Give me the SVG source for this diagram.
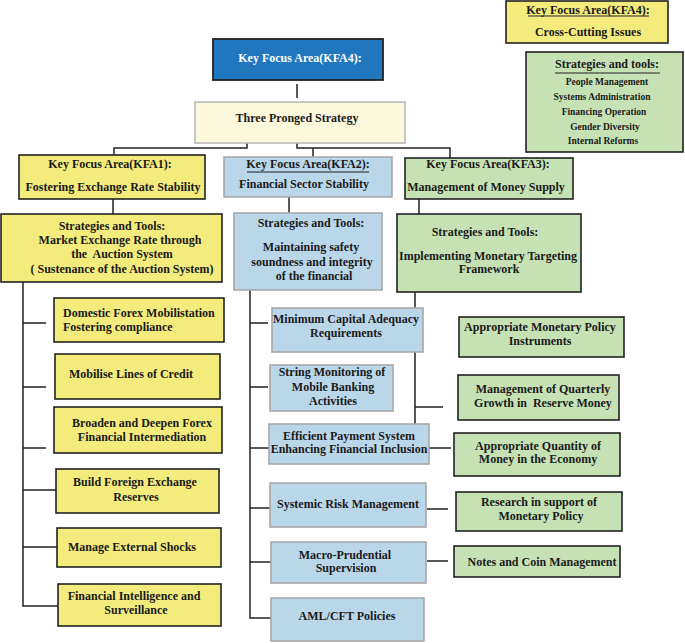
<svg xmlns="http://www.w3.org/2000/svg" width="685" height="643" viewBox="0 0 685 643">
<style>
.y{fill:#F4EB7D;stroke:#222;stroke-width:1.6}
.g{fill:#C6E2B4;stroke:#222;stroke-width:1.6}
.b{fill:#BAD7EA;stroke:#A8A8A8;stroke-width:1.6}
.c{fill:#FCF8DC;stroke:#B8B8B8;stroke-width:1.6}
.k{fill:#2177BD;stroke:#222;stroke-width:1.8}
text{font-family:"Liberation Serif","Times New Roman",serif;font-weight:bold;font-size:12px;fill:#1a1a1a;text-anchor:middle}
.s{font-size:9.5px}
.w{fill:#fff}
.u{stroke:#222;stroke-width:1.2}
#connectors path{fill:none;stroke:#222;stroke-width:1.5}
</style>
<rect width="685" height="643" fill="#fff"/>
<g id="connectors">
<path d="M297 84V98"/>
<path d="M247 143V148H114V155"/>
<path d="M297 143V148H450V158M313 148V157"/>
<path d="M113 199V214"/>
<path d="M289 197V213"/>
<path d="M419 199V214"/>
<path d="M23 282V606H58M23 323H46M23 387H46M23 448H46M23 490H56M23 547H57"/>
<path d="M250 290V618H271M250 323H268M250 387H268M250 448H269M250 508H270M250 562H271"/>
<path d="M415 292V424M415 407H443M429 448H451M427 509H448M427 561H448"/>
</g>
<g id="kfa4-cross">
<rect class="y" x="506" y="1" width="162" height="42"/>
<text x="588" y="13.5">Key Focus Area(KFA4):</text>
<line class="u" x1="528" y1="16" x2="649" y2="16"/>
<text x="588" y="36">Cross-Cutting Issues</text>
</g>
<g id="cross-tools">
<rect class="g" x="526" y="52" width="157" height="100"/>
<text x="607" y="68">Strategies and tools:</text>
<line class="u" x1="555" y1="73" x2="660" y2="73"/>
<text class="s" x="607" y="84.5">People Management</text>
<text class="s" x="602" y="99.5">Systems Administration</text>
<text class="s" x="604" y="114.5">Financing Operation</text>
<text class="s" x="605" y="129.5">Gender Diversity</text>
<text class="s" x="603" y="143.5">Internal Reforms</text>
</g>
<g id="kfa4-main">
<rect class="k" x="213" y="39" width="170" height="41"/>
<text class="w" x="300" y="62">Key Focus Area(KFA4):</text>
</g>
<g id="three">
<rect class="c" x="195" y="102" width="210" height="41"/>
<text x="297" y="122">Three Pronged Strategy</text>
</g>
<g id="kfa1">
<rect class="y" x="19" y="155" width="186" height="44"/>
<text x="110" y="168">Key Focus Area(KFA1):</text>
<text x="113" y="191">Fostering Exchange Rate Stability</text>
</g>
<g id="kfa2">
<rect class="b" x="224" y="157" width="168" height="40"/>
<text x="308" y="168">Key Focus Area(KFA2):</text>
<line class="u" x1="247" y1="172" x2="369" y2="172"/>
<text x="304" y="188">Financial Sector Stability</text>
</g>
<g id="kfa3">
<rect class="g" x="405" y="158" width="168" height="41"/>
<text x="488" y="168">Key Focus Area(KFA3):</text>
<text x="486" y="191">Management of Money Supply</text>
</g>
<g id="kfa1-tools">
<rect class="y" x="1" y="214" width="221" height="68"/>
<text x="112" y="230">Strategies and Tools:</text>
<text x="120" y="244">Market Exchange Rate through</text>
<text x="122" y="258" xml:space="preserve">the  Auction System</text>
<text x="122" y="273">( Sustenance of the Auction System)</text>
</g>
<g id="domestic">
<rect class="y" x="54" y="298" width="170" height="44"/>
<text x="63" y="317" style="text-anchor:start">Domestic Forex Mobilistation</text>
<text x="63" y="331" style="text-anchor:start">Fostering compliance</text>
</g>
<g id="mobilise">
<rect class="y" x="55" y="354" width="165" height="45"/>
<text x="131" y="378">Mobilise Lines of Credit</text>
</g>
<g id="broaden">
<rect class="y" x="54" y="407" width="168" height="46"/>
<text x="142" y="427">Broaden and Deepen Forex</text>
<text x="142" y="441">Financial Intermediation</text>
</g>
<g id="build">
<rect class="y" x="56" y="469" width="163" height="44"/>
<text x="135" y="486">Build Foreign Exchange</text>
<text x="136" y="501">Reserves</text>
</g>
<g id="shocks">
<rect class="y" x="57" y="528" width="164" height="39"/>
<text x="132" y="551">Manage External Shocks</text>
</g>
<g id="intel">
<rect class="y" x="58" y="584" width="163" height="42"/>
<text x="134" y="600">Financial Intelligence and</text>
<text x="136" y="614">Surveillance</text>
</g>
<g id="kfa2-tools">
<rect class="b" x="234" y="213" width="148" height="77"/>
<text x="311" y="227">Strategies and Tools:</text>
<text x="311" y="251">Maintaining safety</text>
<text x="312" y="266">soundness and integrity</text>
<text x="314" y="280">of the financial</text>
</g>
<g id="mincap">
<rect class="b" x="272" y="308" width="151" height="44"/>
<text x="346" y="323">Minimum Capital Adequacy</text>
<text x="346" y="337">Requirements</text>
</g>
<g id="string">
<rect class="b" x="270" y="365" width="123" height="46"/>
<text x="332" y="376">String Monitoring of</text>
<text x="333" y="391">Mobile Banking</text>
<text x="333" y="405">Activities</text>
</g>
<g id="efficient">
<rect class="b" x="269" y="424" width="160" height="40"/>
<text x="349" y="440">Efficient Payment System</text>
<text x="349" y="453">Enhancing Financial Inclusion</text>
</g>
<g id="systemic">
<rect class="b" x="270" y="483" width="156" height="44"/>
<text x="348" y="508">Systemic Risk Management</text>
</g>
<g id="macro">
<rect class="b" x="271" y="542" width="155" height="41"/>
<text x="345" y="559">Macro-Prudential</text>
<text x="346" y="572">Supervision</text>
</g>
<g id="aml">
<rect class="b" x="271" y="598" width="153" height="43"/>
<text x="347" y="620">AML/CFT Policies</text>
</g>
<g id="kfa3-tools">
<rect class="g" x="397" y="214" width="184" height="78"/>
<text x="485" y="236">Strategies and Tools:</text>
<text x="488" y="260">Implementing Monetary Targeting</text>
<text x="489" y="273">Framework</text>
</g>
<g id="apprmon">
<rect class="g" x="459" y="317" width="165" height="40"/>
<text x="540" y="331">Appropriate Monetary Policy</text>
<text x="540" y="345">Instruments</text>
</g>
<g id="quarterly">
<rect class="g" x="458" y="375" width="161" height="45"/>
<text x="543" y="393">Management of Quarterly</text>
<text x="543" y="407" xml:space="preserve">Growth in  Reserve Money</text>
</g>
<g id="quantity">
<rect class="g" x="454" y="433" width="166" height="43"/>
<text x="538" y="450">Appropriate Quantity of</text>
<text x="538" y="463">Money in the Economy</text>
</g>
<g id="research">
<rect class="g" x="456" y="492" width="166" height="39"/>
<text x="539" y="506">Research in support of</text>
<text x="541" y="520">Monetary Policy</text>
</g>
<g id="notes">
<rect class="g" x="454" y="546" width="166" height="31"/>
<text x="542" y="566">Notes and Coin Management</text>
</g>
</svg>
